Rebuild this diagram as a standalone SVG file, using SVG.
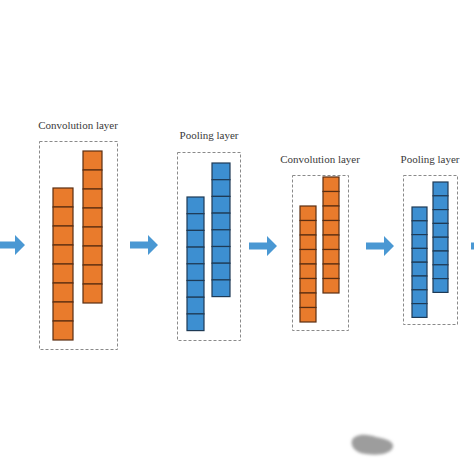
<svg xmlns="http://www.w3.org/2000/svg" width="474" height="474" viewBox="0 0 474 474">
<defs>
<style>
.lbl{font-family:"Liberation Serif","Times New Roman",serif;font-size:11px;fill:#3a3a3a;text-anchor:middle}
.box{fill:none;stroke:#8a8a8a;stroke-width:1;stroke-dasharray:3 2}
.or{fill:#E97B2C;stroke:#5a2e12;stroke-width:1.2}
.bl{fill:#3D8FD1;stroke:#1e3a55;stroke-width:1.2}
.arr{fill:#4A98D3}
</style>
<filter id="blur" x="-20%" y="-40%" width="140%" height="180%"><feGaussianBlur stdDeviation="1.5"/></filter>
<path id="arrow" d="M0,-3.5 L18,-3.5 L18,-10 L28,0 L18,10 L18,3.5 L0,3.5 Z"/>
</defs>
<rect width="474" height="474" fill="#ffffff"/>

<g id="connectors">
<use href="#arrow" class="arr" transform="translate(-3,245)"/>
<use href="#arrow" class="arr" transform="translate(130,245)"/>
<use href="#arrow" class="arr" transform="translate(249,246)"/>
<use href="#arrow" class="arr" transform="translate(366,246)"/>
<use href="#arrow" class="arr" transform="translate(471,246)"/>
</g>

<g id="conv1">
<text class="lbl" x="78" y="129">Convolution layer</text>
<rect class="box" x="39.5" y="141.5" width="78" height="208"/>
<g class="or">
<rect x="53" y="188" width="20" height="19"/><rect x="53" y="207" width="20" height="19"/><rect x="53" y="226" width="20" height="19"/><rect x="53" y="245" width="20" height="19"/><rect x="53" y="264" width="20" height="19"/><rect x="53" y="283" width="20" height="19"/><rect x="53" y="302" width="20" height="19"/><rect x="53" y="321" width="20" height="19"/>
<rect x="83" y="151" width="19" height="19"/><rect x="83" y="170" width="19" height="19"/><rect x="83" y="189" width="19" height="19"/><rect x="83" y="208" width="19" height="19"/><rect x="83" y="227" width="19" height="19"/><rect x="83" y="246" width="19" height="19"/><rect x="83" y="265" width="19" height="19"/><rect x="83" y="284" width="19" height="19"/>
</g>
</g>

<g id="pool1">
<text class="lbl" x="209" y="139">Pooling layer</text>
<rect class="box" x="177.5" y="152.5" width="63" height="188"/>
<g class="bl">
<rect x="187" y="197" width="17" height="16.7"/><rect x="187" y="213.7" width="17" height="16.7"/><rect x="187" y="230.4" width="17" height="16.7"/><rect x="187" y="247.1" width="17" height="16.7"/><rect x="187" y="263.8" width="17" height="16.7"/><rect x="187" y="280.5" width="17" height="16.7"/><rect x="187" y="297.2" width="17" height="16.7"/><rect x="187" y="313.9" width="17" height="16.7"/>
<rect x="212" y="163" width="18" height="16.7"/><rect x="212" y="179.7" width="18" height="16.7"/><rect x="212" y="196.4" width="18" height="16.7"/><rect x="212" y="213.1" width="18" height="16.7"/><rect x="212" y="229.8" width="18" height="16.7"/><rect x="212" y="246.5" width="18" height="16.7"/><rect x="212" y="263.2" width="18" height="16.7"/><rect x="212" y="279.9" width="18" height="16.7"/>
</g>
</g>

<g id="conv2">
<text class="lbl" x="320" y="163">Convolution layer</text>
<rect class="box" x="292.5" y="175.5" width="56" height="155"/>
<g class="or">
<rect x="300" y="206" width="16" height="14.5"/><rect x="300" y="220.5" width="16" height="14.5"/><rect x="300" y="235" width="16" height="14.5"/><rect x="300" y="249.5" width="16" height="14.5"/><rect x="300" y="264" width="16" height="14.5"/><rect x="300" y="278.5" width="16" height="14.5"/><rect x="300" y="293" width="16" height="14.5"/><rect x="300" y="307.5" width="16" height="14.5"/>
<rect x="323" y="177" width="16" height="14.5"/><rect x="323" y="191.5" width="16" height="14.5"/><rect x="323" y="206" width="16" height="14.5"/><rect x="323" y="220.5" width="16" height="14.5"/><rect x="323" y="235" width="16" height="14.5"/><rect x="323" y="249.5" width="16" height="14.5"/><rect x="323" y="264" width="16" height="14.5"/><rect x="323" y="278.5" width="16" height="14.5"/>
</g>
</g>

<g id="pool2">
<text class="lbl" x="430" y="163">Pooling layer</text>
<rect class="box" x="403.5" y="175.5" width="54" height="149"/>
<g class="bl">
<rect x="412" y="207" width="15" height="13.8"/><rect x="412" y="220.8" width="15" height="13.8"/><rect x="412" y="234.6" width="15" height="13.8"/><rect x="412" y="248.4" width="15" height="13.8"/><rect x="412" y="262.2" width="15" height="13.8"/><rect x="412" y="276" width="15" height="13.8"/><rect x="412" y="289.8" width="15" height="13.8"/><rect x="412" y="303.6" width="15" height="13.8"/>
<rect x="433" y="182" width="15" height="13.8"/><rect x="433" y="195.8" width="15" height="13.8"/><rect x="433" y="209.6" width="15" height="13.8"/><rect x="433" y="223.4" width="15" height="13.8"/><rect x="433" y="237.2" width="15" height="13.8"/><rect x="433" y="251" width="15" height="13.8"/><rect x="433" y="264.8" width="15" height="13.8"/><rect x="433" y="278.6" width="15" height="13.8"/>
</g>
</g>

<path d="M352,440 C356,433 368,434 376,437 C386,439 394,441 393,447 C391,454 378,456 366,454 C356,453 350,447 352,440 Z" fill="#9d9d9d" filter="url(#blur)"/>
</svg>
